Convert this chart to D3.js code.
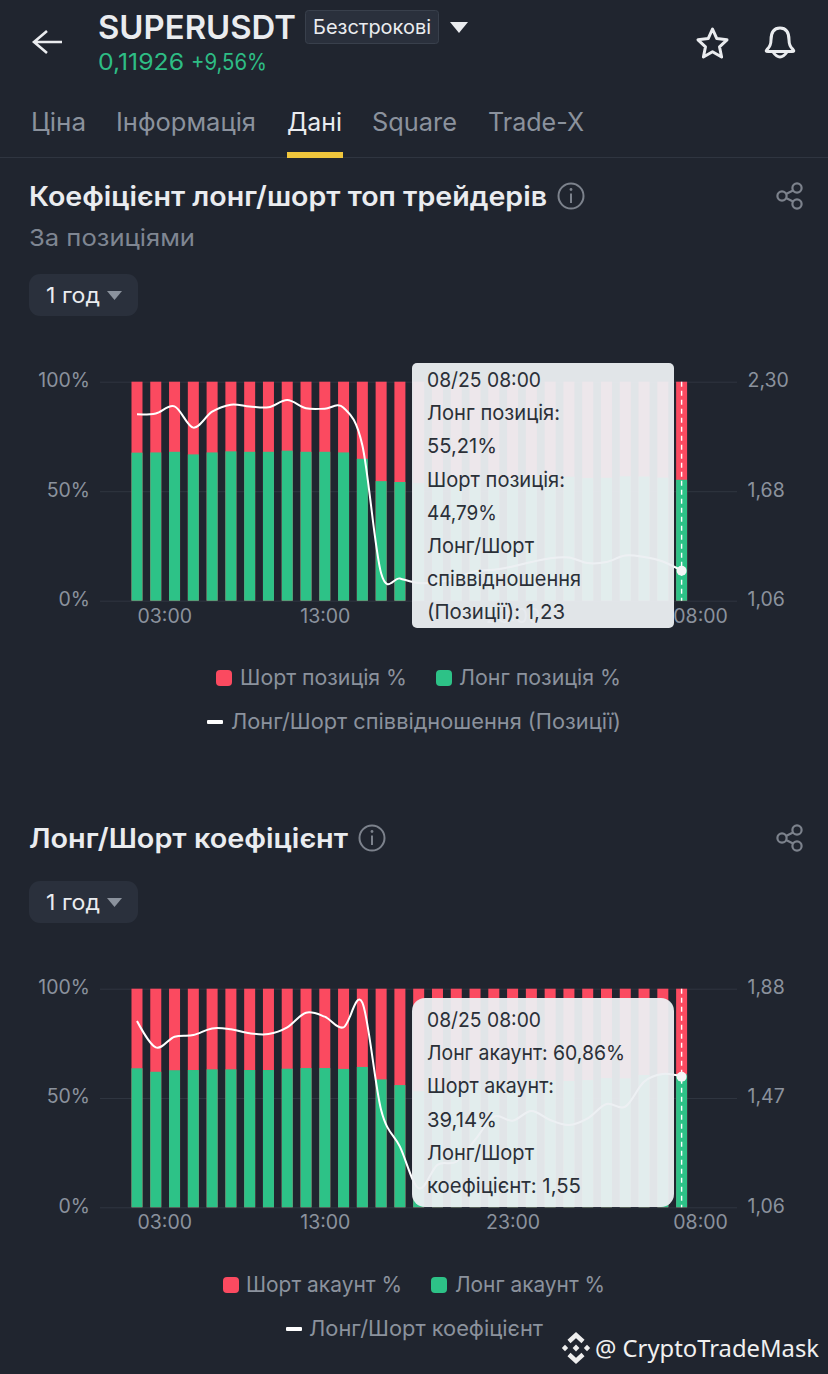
<!DOCTYPE html>
<html><head><meta charset="utf-8">
<script src="https://cdn.jsdelivr.net/npm/d3@7/dist/d3.min.js"></script>
<style>html,body{margin:0;padding:0;background:#20252f;overflow:hidden}svg{display:block}</style>
</head><body><svg id="c" width="828" height="1374"></svg>
<script>
const categories = ["08/24 03:00","08/24 04:00","08/24 05:00","08/24 06:00","08/24 07:00","08/24 08:00","08/24 09:00","08/24 10:00","08/24 11:00","08/24 12:00","08/24 13:00","08/24 14:00","08/24 15:00","08/24 16:00","08/24 17:00","08/24 18:00","08/24 19:00","08/24 20:00","08/24 21:00","08/24 22:00","08/24 23:00","08/25 00:00","08/25 01:00","08/25 02:00","08/25 03:00","08/25 04:00","08/25 05:00","08/25 06:00","08/25 07:00","08/25 08:00"];
const tickCategories = ["08/24 03:00","08/24 13:00","08/24 23:00","08/25 08:00"];
const percentTicks = [0,50,100];

const topLong = [67.6,67.7,68.0,66.8,67.7,68.2,68.0,68.0,68.5,68.0,68.0,67.7,64.8,54.6,54.2,53.7,53.8,54.3,55.1,55.3,55.6,56.1,56.5,56.6,56.0,56.1,56.8,56.7,56.2,55.21];
const topRatio = [2.115,2.12,2.16,2.04,2.13,2.17,2.16,2.155,2.196,2.15,2.147,2.153,1.94,1.215,1.186,1.16,1.164,1.188,1.226,1.235,1.254,1.279,1.301,1.305,1.273,1.279,1.316,1.307,1.282,1.23];
const topRatioTicks = [1.06,1.68,2.30];

const acctLong = [63.6,62.0,62.7,62.8,63.1,63.1,62.8,62.8,63.4,63.7,63.7,63.3,64.2,58.5,55.9,53.1,54.9,55.2,56.8,58.3,58.1,58.7,58.1,57.8,58.2,59.1,59.0,60.5,60.9,60.86];
const acctRatio = [1.759,1.66,1.70,1.706,1.731,1.7275,1.7125,1.71,1.735,1.79,1.775,1.735,1.8275,1.425,1.2875,1.131,1.219,1.231,1.3125,1.40,1.385,1.421,1.3875,1.369,1.394,1.4475,1.4375,1.531,1.56,1.55];
const acctRatioTicks = [1.06,1.47,1.88];

const topTooltip = ["08/25 08:00","Лонг позиція:","55,21%","Шорт позиція:","44,79%","Лонг/Шорт","співвідношення","(Позиції): 1,23"];
const acctTooltip = ["08/25 08:00","Лонг акаунт: 60,86%","Шорт акаунт:","39,14%","Лонг/Шорт","коефіцієнт: 1,55"];

const BG="#20252f",RED="#fb4a60",GREEN="#2dc287",TXT="#eaecef",GREY="#8b929d",GRID="#2f3540";
const FONT="Inter, 'Noto Sans', sans-serif";
const svg=d3.select("#c");
svg.append("rect").attr("width",828).attr("height",1374).attr("fill",BG);
const loc=d3.formatLocale({decimal:",",thousands:" ",grouping:[3],currency:["",""]});
const fmt2=loc.format(".2f");

function label(t,x,y,size,color,width,weight,parent,font){
  const n=(parent||svg).append("text").text(t).attr("x",x).attr("y",y)
    .attr("font-family",font||FONT).attr("font-size",size).attr("fill",color).attr("font-weight",weight||400);
  if(width) n.attr("textLength",width).attr("lengthAdjust","spacingAndGlyphs");
  return n;
}
function tri(x0,x1,y0,y1,color){
  svg.append("path").attr("d",d3.line()([[x0,y0],[x1,y0],[(x0+x1)/2,y1]])+"Z").attr("fill",color);
}
function info(cx,cy){
  const c="#7c828c";
  svg.append("circle").attr("cx",cx).attr("cy",cy).attr("r",12.5).attr("fill","none").attr("stroke",c).attr("stroke-width",2);
  svg.append("circle").attr("cx",cx).attr("cy",cy-6.5).attr("r",1.4).attr("fill",c);
  svg.append("line").attr("x1",cx).attr("x2",cx).attr("y1",cy-2.5).attr("y2",cy+7).attr("stroke",c).attr("stroke-width",2);
}
function share(cx,cy){
  const g=svg.append("g").attr("fill","none").attr("stroke","#7c828c").attr("stroke-width",2.2);
  g.append("path").attr("d",`M${cx+7},${cy-7.5} L${cx-8},${cy} L${cx+7},${cy+7.5}`);
  [[cx+7,cy-8],[cx-8,cy],[cx+7,cy+8]].forEach(p=>g.append("circle").attr("cx",p[0]).attr("cy",p[1]).attr("r",4.6).attr("fill",BG));
}
function dropdown(y){
  svg.append("rect").attr("x",29).attr("y",y).attr("width",109).attr("height",42).attr("rx",11).attr("fill","#2a303c");
  label("1 год",46,y+29,22,TXT,54);
  tri(107,122,y+17,y+26,GREY);
}

/* header */
svg.append("path").attr("d","M62,42 H35 M47,31 L34,42 L47,53").attr("fill","none").attr("stroke",TXT).attr("stroke-width",2.6);
label("SUPERUSDT",98,38.5,32.5,TXT,198,600);
svg.append("rect").attr("x",305.5).attr("y",10.5).attr("width",133).attr("height",33).attr("rx",3).attr("fill","#2a303c").attr("stroke","#39404c");
label("Безстрокові",313,34,20,TXT,118);
tri(450,468,22,33,TXT);
label("0,11926",98,70,22.5,"#2ebd85",86);
label("+9,56%",191,70,22.5,"#2ebd85",76);
svg.append("path").attr("d","M712.5,29 L716.8,38.6 L727,39.8 L719.5,46.8 L721.6,57 L712.5,51.8 L703.4,57 L705.5,46.8 L698,39.8 L708.2,38.6 Z").attr("fill","none").attr("stroke",TXT).attr("stroke-width",3).attr("stroke-linejoin","round");
svg.append("path").attr("d","M767,49.5 Q771,46 771,40 Q771,28 780,28 Q789,28 789,40 Q789,46 793,49.5 Q795,51.5 792,51.5 H768 Q765,51.5 767,49.5 Z M773,52 Q780,62 787,52").attr("fill","none").attr("stroke",TXT).attr("stroke-width",3).attr("stroke-linejoin","round");
[["Ціна",31,55,GREY],["Інформація",116,140,GREY],["Дані",287,55,TXT],["Square",372,85,GREY],["Trade-X",488,96,GREY]]
  .forEach(d=>label(d[0],d[1],131,25,d[3],d[2]));
svg.append("line").attr("x1",0).attr("x2",828).attr("y1",157.5).attr("y2",157.5).attr("stroke",GRID);
svg.append("rect").attr("x",287).attr("y",152).attr("width",56).attr("height",6).attr("fill","#f0c63c");

/* chart sections */
function chart(o){
  const {top,bottom}=o;
  const x=d3.scaleBand().domain(categories).range([127.6,691]).paddingInner(0.414).paddingOuter(0.207);
  const yP=d3.scaleLinear().domain([0,100]).range([bottom,top]);
  const yR=d3.scaleLinear().domain([o.ticks[0],o.ticks[2]]).range([bottom,top]);
  const g=svg.append("g");
  const left=g.append("g").attr("transform","translate(100,0)")
    .call(d3.axisRight(yP).tickValues(percentTicks).tickSize(637).tickFormat(d=>d+"%"));
  left.select(".domain").remove();
  left.selectAll("line").attr("stroke",GRID);
  left.selectAll("text").attr("x",-10).attr("dy","0.25em").attr("text-anchor","end").attr("fill",GREY).attr("font-size",19.5).attr("font-family",FONT);
  const right=g.append("g").attr("transform","translate(737,0)")
    .call(d3.axisRight(yR).tickValues(o.ticks).tickSize(0).tickFormat(fmt2));
  right.select(".domain").remove();
  right.selectAll("text").attr("x",10.5).attr("dy","0.25em").attr("fill",GREY).attr("font-size",19.5).attr("font-family",FONT);
  const cx=d=>x(d)+x.bandwidth()/2;
  g.selectAll("rect.s").data(categories).join("rect").attr("class","s").attr("x",d=>x(d)).attr("width",x.bandwidth())
    .attr("y",top).attr("height",bottom-top).attr("fill",RED);
  g.selectAll("rect.l").data(categories).join("rect").attr("class","l").attr("x",d=>x(d)).attr("width",x.bandwidth())
    .attr("y",(d,i)=>yP(o.long[i])).attr("height",(d,i)=>bottom-yP(o.long[i])).attr("fill",GREEN);
  const bx=d3.scalePoint().domain(categories).range([cx(categories[0]),cx(categories[29])]);
  const ax=g.append("g").attr("transform",`translate(0,${bottom})`)
    .call(d3.axisBottom(bx).tickValues(tickCategories).tickSize(0).tickFormat(d=>d.slice(6)));
  ax.select(".domain").remove();
  ax.selectAll("text").attr("y",8).attr("dy","0.71em").attr("fill",GREY).attr("font-size",19.5).attr("font-family",FONT)
    .attr("text-anchor",(d,i)=>i==0?"start":"middle").attr("dx",(d,i)=>i==3?18.5:0);
  const last=categories[29];
  g.append("line").attr("x1",cx(last)).attr("x2",cx(last)).attr("y1",top).attr("y2",bottom)
    .attr("stroke","#fff").attr("stroke-width",1.4).attr("stroke-dasharray","5 4");
  const line=d3.line().x(d=>cx(d)).y((d,i)=>yR(o.ratio[i])).curve(d3.curveCatmullRom.alpha(0));
  g.append("path").attr("d",line(categories)).attr("fill","none").attr("stroke","#fff").attr("stroke-width",2);
  g.append("circle").attr("cx",cx(last)).attr("cy",yR(o.ratio[29])).attr("r",5).attr("fill","#f4f5f6");
  // tooltip
  g.append("rect").attr("x",412).attr("y",o.tipY).attr("width",262).attr("height",o.tipH).attr("rx",o.tipR)
    .attr("fill","#eceff2").attr("fill-opacity",0.95);
  o.tip.forEach((t,i)=>label(t,427,o.tipBase+i*33.2,20.5,"#2b3038",o.tipW[i]));
}

/* section 1 */
label("Коефіцієнт лонг/шорт топ трейдерів",29,206,27.5,TXT,518,600);
info(571,196); share(790,196);
label("За позиціями",29,246,23.5,"#7f8692",166);
dropdown(274);
chart({top:381.7,bottom:600.7,long:topLong,ratio:topRatio,ticks:topRatioTicks,tip:topTooltip,
  tipY:363,tipH:265,tipR:5,tipBase:387,tipW:[114,133,70,138,70,107,154,138]});
function legend(xr,xrt,wr,nr,xg,xgt,wg,ng,yb,xl,xlt,wl,nl){
  svg.append("rect").attr("x",xr).attr("y",yb-15).attr("width",16).attr("height",16).attr("rx",4).attr("fill",RED);
  label(nr,xrt,yb,21.5,GREY,wr);
  svg.append("rect").attr("x",xg).attr("y",yb-15).attr("width",16).attr("height",16).attr("rx",4).attr("fill",GREEN);
  label(ng,xgt,yb,21.5,GREY,wg);
  svg.append("rect").attr("x",xl).attr("y",yb+35).attr("width",16).attr("height",4).attr("rx",1).attr("fill","#fff");
  label(nl,xlt,yb+44,21.5,GREY,wl);
}
legend(216,240,167,"Шорт позиція %",436,459,162,"Лонг позиція %",685,207,231,390,"Лонг/Шорт співвідношення (Позиції)");

/* section 2 */
label("Лонг/Шорт коефіцієнт",29,848,27.5,TXT,319,600);
info(372,838); share(790,838);
dropdown(881);
chart({top:988.7,bottom:1207.3,long:acctLong,ratio:acctRatio,ticks:acctRatioTicks,tip:acctTooltip,
  tipY:998,tipH:209,tipR:13,tipBase:1027,tipW:[114,198,127,70,107,154]});
legend(223,246,156,"Шорт акаунт %",431,455,150,"Лонг акаунт %",1292,286,309,234,"Лонг/Шорт коефіцієнт");

/* watermark */
const wm=svg.append("g");
wm.append("path").attr("d","M569,1341.5 L576,1335 L583,1341.5 M569,1354.5 L576,1361 L583,1354.5").attr("fill","none").attr("stroke","#eeeeee").attr("stroke-width",4.5);
[[565,1348,3.2],[576,1348,3.4],[587,1348,3.2]].forEach(p=>wm.append("path").attr("fill","#eeeeee").attr("d",`M${p[0]-p[2]},${p[1]} L${p[0]},${p[1]-p[2]} L${p[0]+p[2]},${p[1]} L${p[0]},${p[1]+p[2]} Z`));
label("@ CryptoTradeMask",595,1357,23.5,"#f0f0f0",224,400,svg,"'Noto Sans', sans-serif");
</script></body></html>
